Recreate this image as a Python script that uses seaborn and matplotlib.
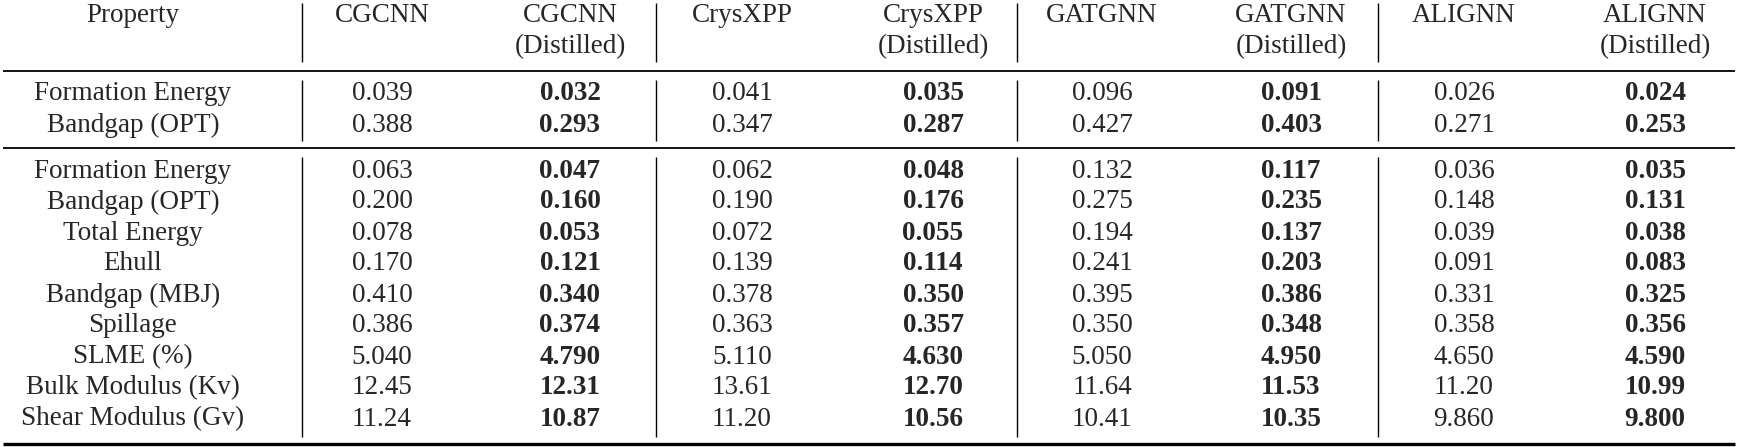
import matplotlib
matplotlib.use("Agg")
import matplotlib.pyplot as plt
import seaborn as sns

sns.set_theme(style="white")
plt.rcParams['font.family'] = ['Liberation Serif', 'DejaVu Serif']

headers = ["Property", "CGCNN", "CGCNN\n(Distilled)", "CrysXPP", "CrysXPP\n(Distilled)",
           "GATGNN", "GATGNN\n(Distilled)", "ALIGNN", "ALIGNN\n(Distilled)"]
props1 = ["Formation Energy", "Bandgap (OPT)"]
vals1 = [
    ["0.039", "0.032", "0.041", "0.035", "0.096", "0.091", "0.026", "0.024"],
    ["0.388", "0.293", "0.347", "0.287", "0.427", "0.403", "0.271", "0.253"],
]
props2 = ["Formation Energy", "Bandgap (OPT)", "Total Energy", "Ehull", "Bandgap (MBJ)",
          "Spillage", "SLME (%)", "Bulk Modulus (Kv)", "Shear Modulus (Gv)"]
vals2 = [
    ["0.063", "0.047", "0.062", "0.048", "0.132", "0.117", "0.036", "0.035"],
    ["0.200", "0.160", "0.190", "0.176", "0.275", "0.235", "0.148", "0.131"],
    ["0.078", "0.053", "0.072", "0.055", "0.194", "0.137", "0.039", "0.038"],
    ["0.170", "0.121", "0.139", "0.114", "0.241", "0.203", "0.091", "0.083"],
    ["0.410", "0.340", "0.378", "0.350", "0.395", "0.386", "0.331", "0.325"],
    ["0.386", "0.374", "0.363", "0.357", "0.350", "0.348", "0.358", "0.356"],
    ["5.040", "4.790", "5.110", "4.630", "5.050", "4.950", "4.650", "4.590"],
    ["12.45", "12.31", "13.61", "12.70", "11.64", "11.53", "11.20", "10.99"],
    ["11.24", "10.87", "11.20", "10.56", "10.41", "10.35", "9.860", "9.800"],
]

W, H = 1738, 447
fig = plt.figure(figsize=(W / 100, H / 100), dpi=100)
ax = fig.add_axes([0, 0, 1, 1])
ax.set_xlim(0, W)
ax.set_ylim(H, 0)
ax.axis("off")

colx = [133, 382, 570, 742, 933, 1102, 1291, 1464, 1655]
seps = [302, 656, 1017, 1378]
fs = 19.5

for x, h in zip(colx, headers):
    lines = h.split("\n")
    ax.text(x, 16, lines[0], ha="center", va="center", fontsize=fs)
    if len(lines) > 1:
        ax.text(x, 47, lines[1], ha="center", va="center", fontsize=fs)

def draw_rows(props, vals, y0, step):
    for i, (p, row) in enumerate(zip(props, vals)):
        y = y0 + i * step
        ax.text(colx[0], y, p, ha="center", va="center", fontsize=fs)
        for j, v in enumerate(row):
            ax.text(colx[j + 1], y, v, ha="center", va="center", fontsize=fs,
                    fontweight="bold" if j % 2 == 1 else "normal")

draw_rows(props1, vals1, 94, 31)
draw_rows(props2, vals2, 171, 31)

ax.hlines(71, 3, 1735, color="black", lw=1.3)
ax.hlines(148, 3, 1735, color="black", lw=1.3)
ax.hlines(444, 3, 1735, color="black", lw=2.4)
for x in seps:
    for a, b in [(3, 62), (80, 141), (157, 437)]:
        ax.vlines(x, a, b, color="black", lw=1.0)

fig.savefig("out.png", dpi=100)
